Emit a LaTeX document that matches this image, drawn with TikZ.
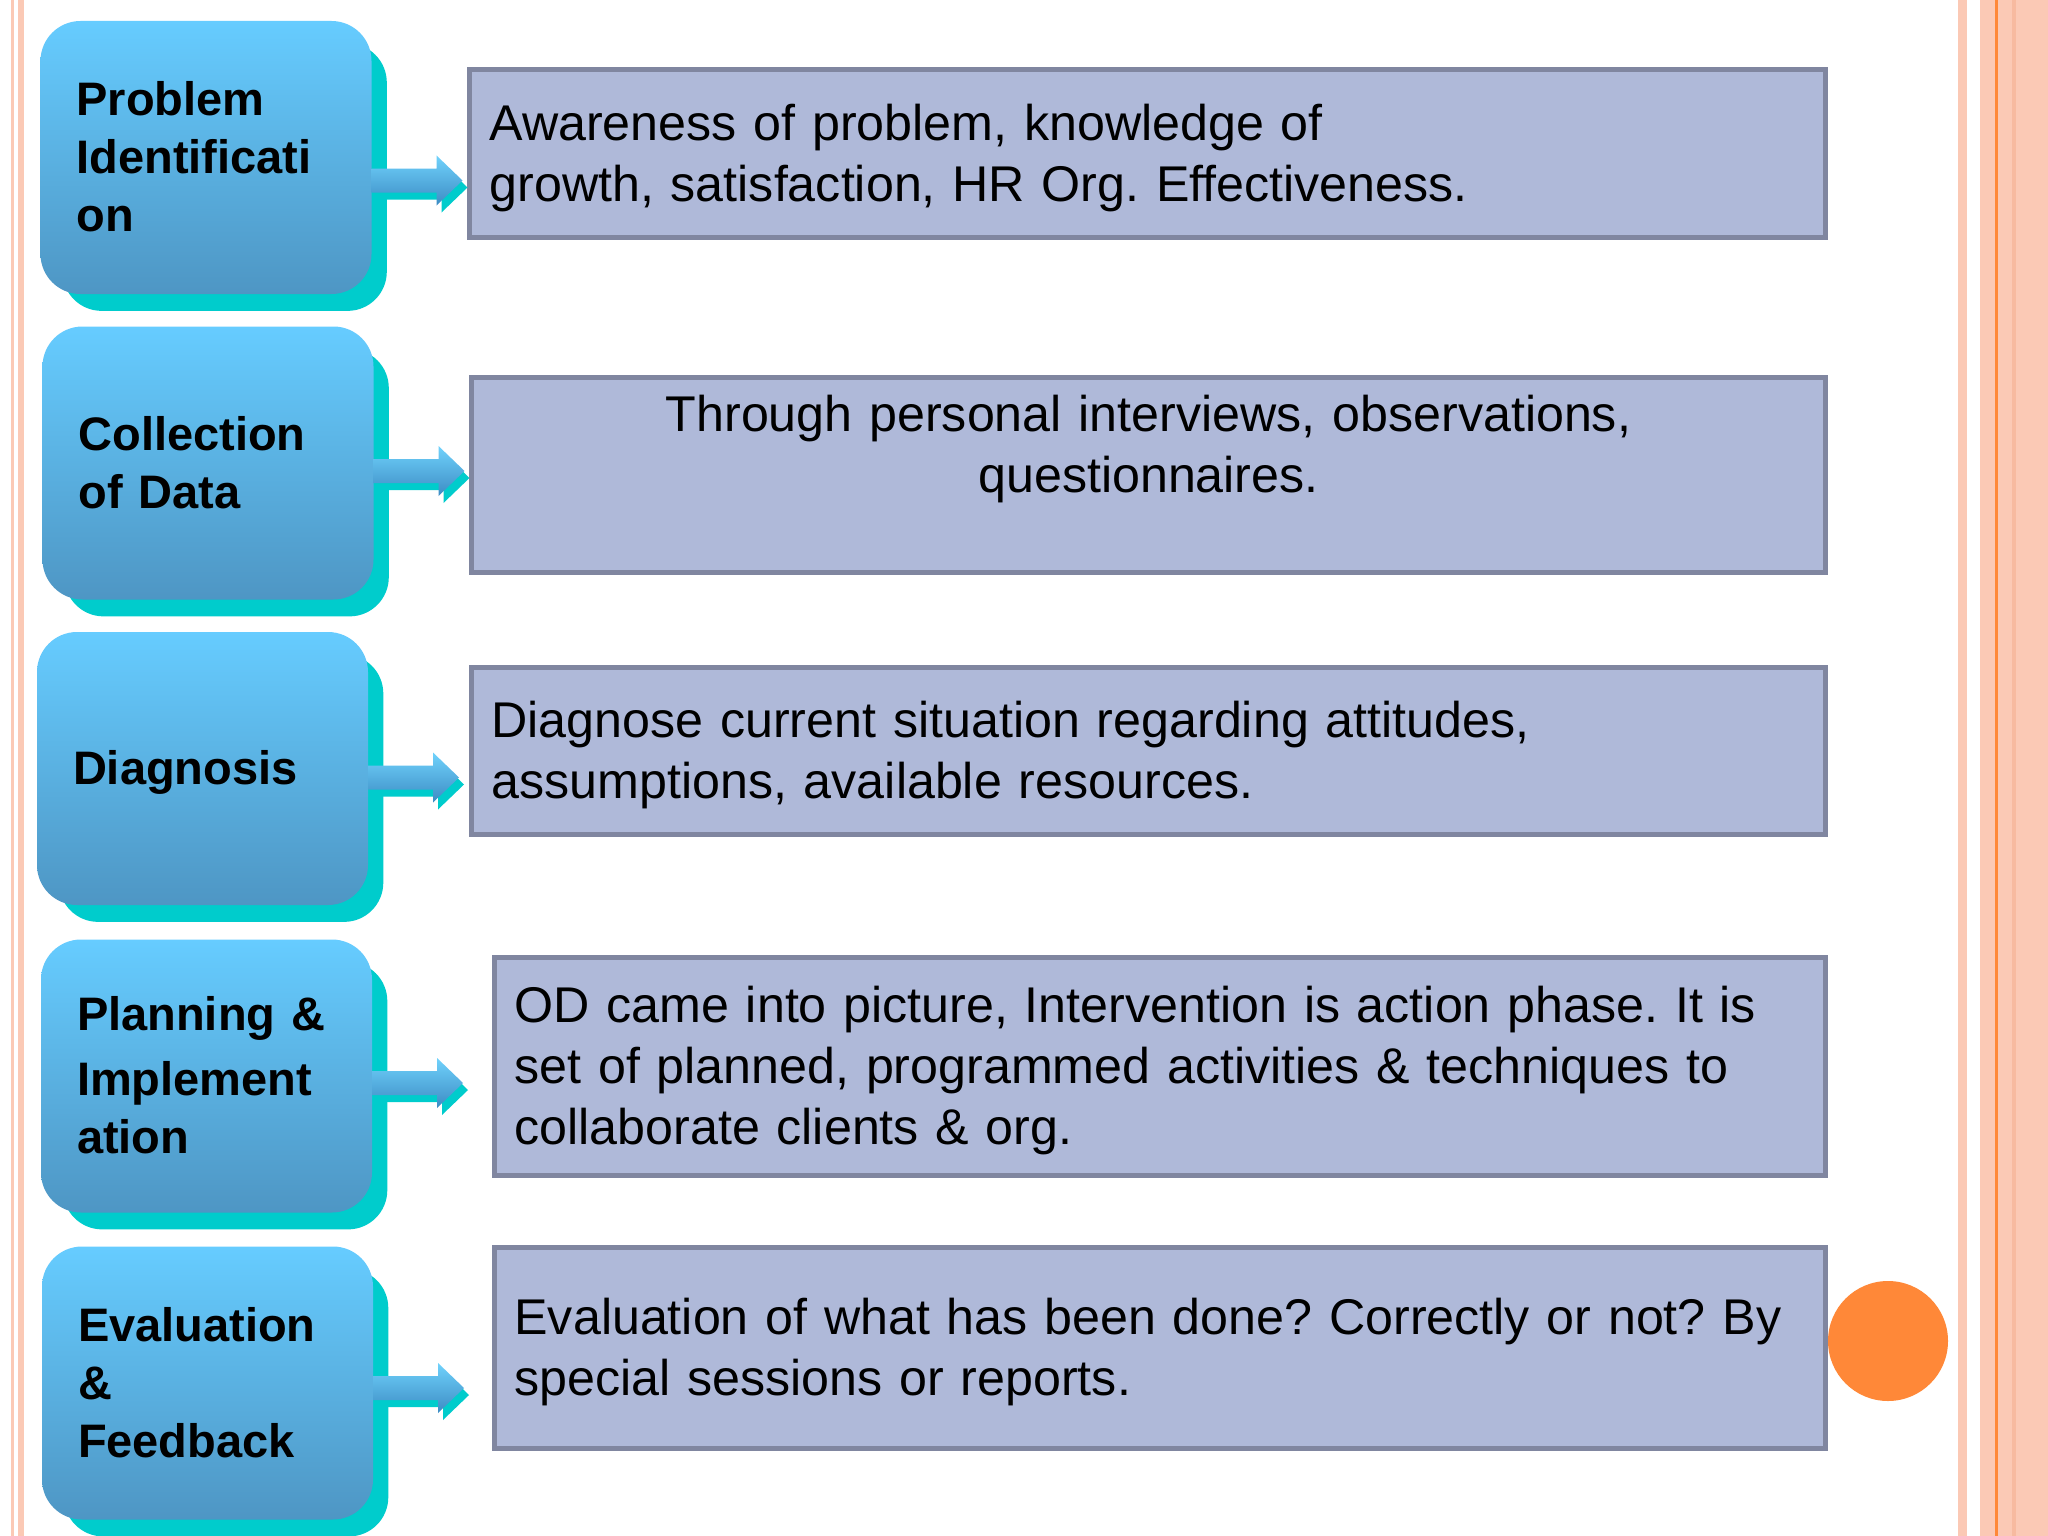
\documentclass[tikz,border=0pt]{standalone}
\usepackage{fontspec}
\setmainfont{Liberation Sans}
\usetikzlibrary{calc,positioning,shadows}
\frenchspacing

\definecolor{skytop}{RGB}{102,204,255}
\definecolor{skybottom}{RGB}{78,150,196}
\definecolor{tealshadow}{RGB}{0,204,204}
\definecolor{lavender}{RGB}{175,185,217}
\definecolor{slateline}{RGB}{128,134,160}
\definecolor{peach}{RGB}{251,201,181}
\definecolor{peachdark}{RGB}{247,186,160}
\definecolor{tangerine}{RGB}{255,136,56}
\definecolor{arrowtop}{RGB}{112,210,252}
\definecolor{arrowbottom}{RGB}{60,140,196}

\tikzstyle{od flow}=[x=1pt, y=-1pt,
    every node/.style={inner sep=0pt, outer sep=0pt}]
\tikzstyle{phase box}=[
    rectangle, rounded corners=40pt,
    minimum width=331pt, minimum height=273pt,
    top color=skytop, bottom color=skybottom,
    drop shadow={shadow xshift=19pt, shadow yshift=-20pt, shadow scale=0.98,
        fill=tealshadow, opacity=1},
    text width=259pt, inner xsep=36pt, align=left,
    font=\bfseries\fontsize{47}{58}\selectfont]
\tikzstyle{detail box}=[
    rectangle, fill=lavender, draw=slateline, line width=5pt,
    inner xsep=20pt, align=left,
    font=\fontsize{50.2}{61}\selectfont]
\tikzstyle{arrow body}=[top color=arrowtop, bottom color=arrowbottom]
\tikzstyle{arrow shadow}=[fill=tealshadow]

% strut with the ascent and descent of the slide font
\newcommand{\ppstrut}{\rule[-0.212em]{0pt}{1.117em}}
% fat arrow from #2 to #3, drawn in style #1
\newcommand{\phasearrow}[3][arrow body]{%
    \path[#1] let \p1=(#2), \p2=(#3) in
        (\x1,\y1+12pt) -- (\x2-26pt,\y1+12pt) -- (\x2-26pt,\y1+25pt) -- (\x2,\y1)
        -- (\x2-26pt,\y1-25pt) -- (\x2-26pt,\y1-12pt) -- (\x1,\y1-12pt) -- cycle;}

\begin{document}
\begin{tikzpicture}[od flow]
    \useasboundingbox (0,0) rectangle (2048,1536);
    \fill[white] (0,0) rectangle (2048,1536);

    % page border stripes
    \fill[peach] (11,0) rectangle (13.5,1536);
    \fill[peach] (18,0) rectangle (24,1536);
    \fill[peach] (1958,0) rectangle (1967,1536);
    \fill[peach] (1980,0) rectangle (2048,1536);
    \fill[tangerine] (1995,0) rectangle (1998,1536);
    \fill[peachdark] (2012,0) rectangle (2016,1536);

    % phases
    \node[phase box] (p1) at (206,157.5) {\ppstrut Problem\\Identificati\\on\ppstrut};
    \node[phase box] (p2) at (208,463) {\ppstrut Collection\\of Data\ppstrut};
    \node[phase box] (p3) at (202.5,768.5) {\ppstrut Diagnosis\ppstrut};
    \node[phase box] (p4) at (206.5,1076) {\ppstrut Planning \&\\[7pt]Implement\\ation\ppstrut};
    \node[phase box] (p5) at (207.5,1383) {\ppstrut Evaluation\\\&\\Feedback\ppstrut};

    % details
    \node[detail box, minimum height=168pt, text width=1316pt] (d1) at (1147.5,153.5)
        {\ppstrut Awareness of problem, knowledge of\\growth, satisfaction, HR Org. Effectiveness.\ppstrut};
    \node[detail box, minimum height=195pt, text width=1314pt, align=center] (d2) at (1148.5,475)
        {\ppstrut Through personal interviews, observations,\\questionnaires.\\\ppstrut};
    \node[detail box, minimum height=167pt, text width=1314pt] (d3) at (1148.5,751)
        {\ppstrut Diagnose current situation regarding attitudes,\\assumptions, available resources.\ppstrut};
    \node[detail box, minimum height=218pt, text width=1291pt] (d4) at (1160,1066.5)
        {\ppstrut OD came into picture, Intervention is action phase. It is\\set of planned, programmed activities \& techniques to\\collaborate clients \& org.\ppstrut};
    \node[detail box, minimum height=201pt, text width=1291pt] (d5) at (1160,1348)
        {\ppstrut Evaluation of what has been done? Correctly or not? By\\special sessions or reports.\ppstrut};

    \node[circle, fill=tangerine, minimum size=120pt] (dot) at (1888,1341) {};

    % arrows
    \foreach \i/\dy in {1/23, 2/8, 3/9, 4/7, 5/5}{
        \coordinate (a\i) at ($(p\i.east)+(0,\dy)$);
        \coordinate (t\i) at ($(a\i)+(91,0)$);
        \phasearrow[arrow shadow]{$(a\i)+(5,7)$}{$(t\i)+(5,7)$}
        \phasearrow{a\i}{t\i}
    }
\end{tikzpicture}
\end{document}
